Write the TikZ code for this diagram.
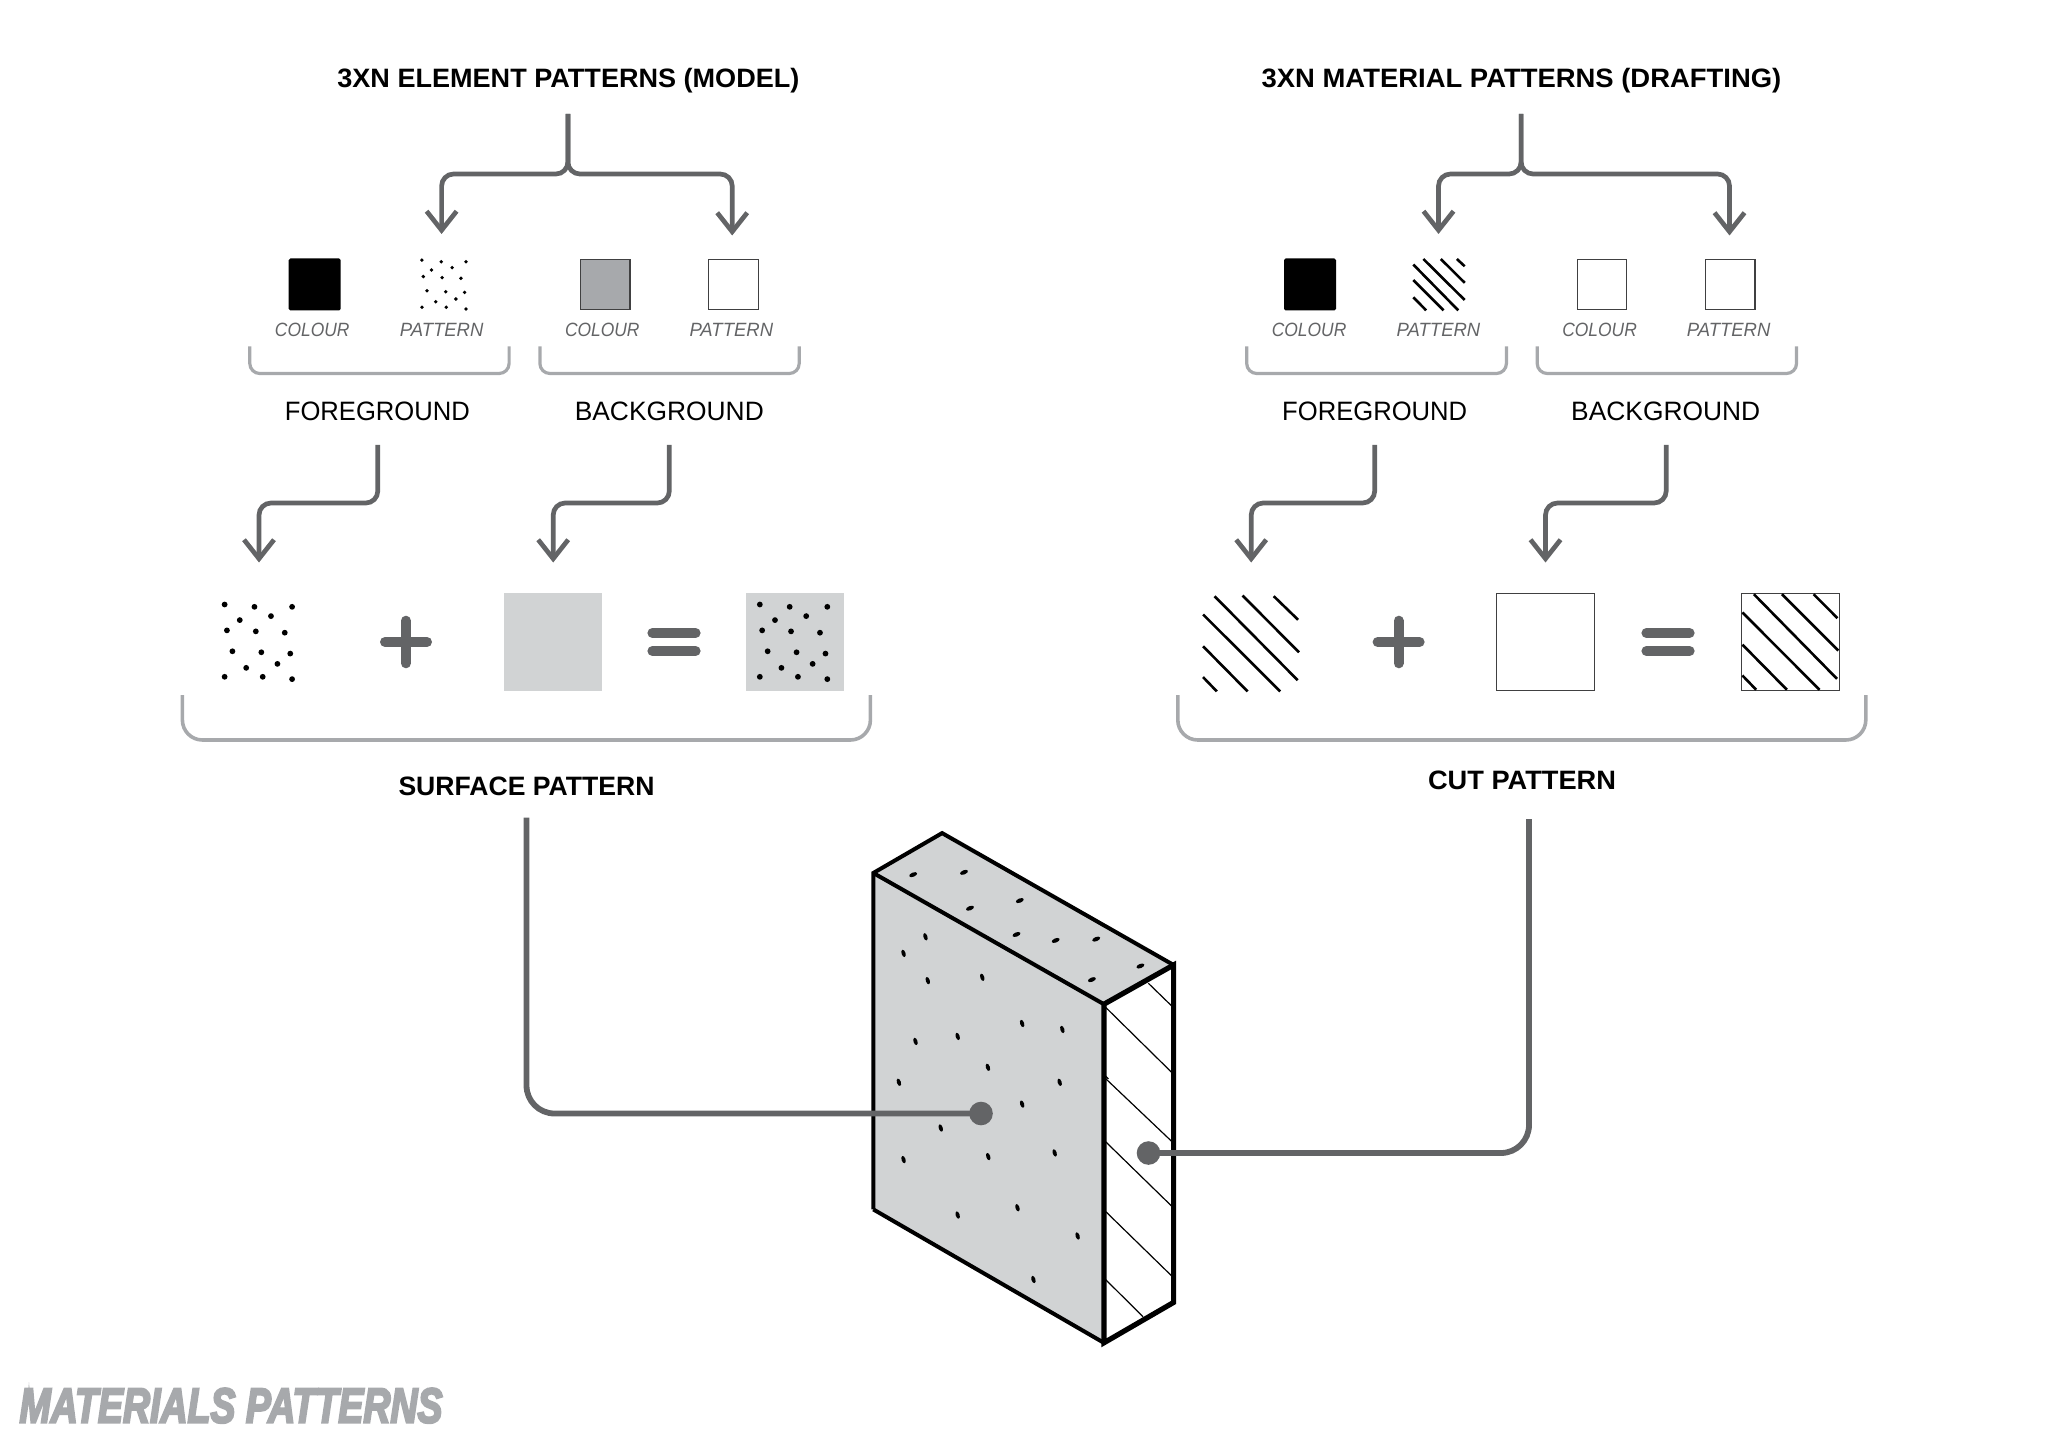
\documentclass[tikz,border=0pt]{standalone}
\usepackage{fontspec}
\setmainfont{Liberation Sans}
\newfontfamily\heavyfont[BoldItalicFeatures={FakeBold=5}]{Liberation Sans}
\usetikzlibrary{arrows.meta}
\definecolor{linegray}{HTML}{636466}
\definecolor{brackgray}{HTML}{A7A9AC}
\definecolor{lightgray}{HTML}{D1D3D4}
\definecolor{edgegray}{HTML}{404041}
\newsavebox\fitbox
\newcommand\fitw[2]{\sbox\fitbox{#2}\pgfmathsetmacro\fitr{#1*0.5/\the\wd\fitbox}\scalebox{\fitr}[1]{\usebox\fitbox}}
\def\dotsZoomTwo{119/101,184/108,266/108,220/136,152/148,124/179,187/182,250/186,136/242,199/245,262/249,234/280,166/292,119/319,202/319,266/326}
\def\dotsZoomOne{527/639,569/644,623/644,593/661,548/668,530/687,571/690,612/692,538/728,579/731,620/733,601/752,557/760,527/776,580/776,623/781}
\tikzset{
  conn/.style={draw=linegray,line width=2.35pt,rounded corners=6pt,-{Straight Barb[length=9.5pt,width=15pt,line width=2.35pt]}},
  pinline/.style={draw=linegray,line width=2.9pt,rounded corners=14pt},
  brack/.style={draw=brackgray,line width=1.6pt,rounded corners=5pt},
  bigbrack/.style={draw=brackgray,line width=1.8pt,rounded corners=10pt},
  title/.style={inner sep=0pt,anchor=base,font=\fontsize{13.3}{16}\selectfont\bfseries,text=black},
  group/.style={inner sep=0pt,anchor=base,font=\fontsize{13.3}{16}\selectfont,text=black},
  small/.style={inner sep=0pt,anchor=base,font=\fontsize{9.6}{12}\selectfont\itshape,text=linegray},
  swatch/.style={draw=edgegray,line width=.6pt,minimum size=24.8pt,inner sep=0pt,outer sep=0pt},
  solidblack/.style={fill=black,minimum size=26pt,inner sep=0pt,outer sep=0pt,rounded corners=.8pt},
  bigsquare/.style={minimum width=49pt,minimum height=48.8pt,inner sep=0pt,outer sep=0pt},
  sym/.style={draw=linegray,line width=5pt,line cap=round},
  hatchline/.style={draw=black,line width=1.3pt},
  pin/.style={circle,fill=linegray,minimum size=11.8pt,inner sep=0pt,outer sep=0pt},
  zone/.style={shift={(180,40)},x=.2295pt,y=-.1722pt},
  zthree/.style={shift={(1170,40)},x=.2295pt,y=-.1722pt},
  ztwo/.style={shift={(170,571)},x=.2295pt,y=-.16585pt},
  zfour/.style={shift={(1170,571)},x=.2295pt,y=-.16585pt},
  wall/.style={shift={(860,821.5)},x=.1661pt,y=-.1661pt},
  wallb/.style={shift={(860,1081.5)},x=.1661pt,y=-.1661pt},
}
\begin{document}
\begin{tikzpicture}[x=.5pt,y=-.5pt]
\useasboundingbox (0,0) rectangle (2048,1443);
% ---- titles
\node[title] (t1) at (568.4,87.4) {\fitw{462}{3XN ELEMENT PATTERNS (MODEL)}};
\node[title] (t2) at (1521.5,87.4) {\fitw{519.7}{3XN MATERIAL PATTERNS (DRAFTING)}};
% ---- top connectors
\coordinate (a0) at (567.9,114);
\coordinate (a1) at (441.6,234);
\coordinate (a2) at (732.2,235.5);
\draw[conn] (a0) -- (567.9,174) -- (441.6,174) -- (a1);
\draw[conn] (a0) -- (567.9,174) -- (732.2,174) -- (a2);
\coordinate (b0) at (1521.1,114);
\coordinate (b1) at (1438.5,234);
\coordinate (b2) at (1729.5,235.5);
\draw[conn] (b0) -- (1521.1,174) -- (1438.5,174) -- (b1);
\draw[conn] (b0) -- (1521.1,174) -- (1729.5,174) -- (b2);
% ---- swatches left
\node[solidblack] (s1) at (314.7,284.5) {};
\begin{scope}[zone]
\foreach \a/\b in \dotsZoomOne {\fill[black] (\a,\b) circle[radius=.95pt];}
\end{scope}
\node[swatch,fill=brackgray] (s3) at (605.2,284.5) {};
\node[swatch,fill=white] (s4) at (733.6,284.5) {};
\node[small] (l1) at (312.2,336.2) {\fitw{74.5}{COLOUR}};
\node[small] (l2) at (441.6,336.2) {\fitw{83.6}{PATTERN}};
\node[small] (l3) at (602.3,336.2) {\fitw{74.5}{COLOUR}};
\node[small] (l4) at (731.3,336.2) {\fitw{83.6}{PATTERN}};
\draw[brack] (249.8,346.5) -- (249.8,373.5) -- (509.1,373.5) -- (509.1,346.5);
\draw[brack] (539.9,346.5) -- (539.9,373.5) -- (799.2,373.5) -- (799.2,346.5);
\node[group] (g1) at (377.4,420.5) {\fitw{185}{FOREGROUND}};
\node[group] (g2) at (669.3,420.5) {\fitw{189}{BACKGROUND}};
% ---- swatches right
\node[solidblack] (r1) at (1310,284.5) {};
\begin{scope}[zthree]
\draw[hatchline] (625,636) -- (642,657) (590,636) -- (642,705) (552,636) -- (642,755) (530,652) -- (628,785) (530,697) -- (596,785) (530,747) -- (558,785);
\end{scope}
\node[swatch,fill=white] (r3) at (1601.9,284.5) {};
\node[swatch,fill=white] (r4) at (1730.2,284.5) {};
\node[small] (m1) at (1309.1,336.2) {\fitw{74.5}{COLOUR}};
\node[small] (m2) at (1438.5,336.2) {\fitw{83.6}{PATTERN}};
\node[small] (m3) at (1599.6,336.2) {\fitw{74.5}{COLOUR}};
\node[small] (m4) at (1728.6,336.2) {\fitw{83.6}{PATTERN}};
\draw[brack] (1246.7,346.5) -- (1246.7,373.5) -- (1506.4,373.5) -- (1506.4,346.5);
\draw[brack] (1537.2,346.5) -- (1537.2,373.5) -- (1796.5,373.5) -- (1796.5,346.5);
\node[group] (h1) at (1374.7,420.5) {\fitw{185}{FOREGROUND}};
\node[group] (h2) at (1665.7,420.5) {\fitw{189}{BACKGROUND}};
% ---- middle connectors
\coordinate (c1a) at (377.8,445); \coordinate (c1b) at (259,562.5);
\coordinate (c2a) at (669.3,445); \coordinate (c2b) at (553.2,562.5);
\coordinate (c3a) at (1374.7,445); \coordinate (c3b) at (1251.2,562.5);
\coordinate (c4a) at (1666.2,445); \coordinate (c4b) at (1545.5,562.5);
\draw[conn] (c1a) -- (377.8,503) -- (259,503) -- (c1b);
\draw[conn] (c2a) -- (669.3,503) -- (553.2,503) -- (c2b);
\draw[conn] (c3a) -- (1374.7,503) -- (1251.2,503) -- (c3b);
\draw[conn] (c4a) -- (1666.2,503) -- (1545.5,503) -- (c4b);
% ---- bottom row left
\node[bigsquare,fill=lightgray] (p1) at (553.4,642) {};
\node[bigsquare,fill=lightgray] (p2) at (794.7,642) {};
\begin{scope}[ztwo]
\foreach \a/\b in \dotsZoomTwo {
  \fill[black] (\a,\b) circle[radius=1.45pt];
  \fill[black] (\a+1166,\b) circle[radius=1.45pt];
}
\end{scope}
\draw[sym] (385,642) -- (427,642) (405.9,620.7) -- (405.9,663.3);
\draw[sym] (652.4,633) -- (695.6,633) (652.4,651) -- (695.6,651);
\draw[bigbrack] (182.4,695) -- (182.4,740) -- (870.4,740) -- (870.4,695);
\node[title] (sp) at (526.5,795.2) {\fitw{256}{SURFACE PATTERN}};
% ---- bottom row right
\begin{scope}[zfour]
\draw[hatchline] (226,76) -- (279,147) (158,74) -- (281,245) (97,76) -- (278,329) (72,131) -- (240,363) (72,227) -- (169,363) (72,320) -- (102,363);
\end{scope}
\node[bigsquare,draw=edgegray,line width=.6pt,fill=white] (q1) at (1545.2,642) {};
\node[bigsquare,draw=edgegray,line width=.6pt,fill=white] (q2) at (1790.4,642) {};
\begin{scope}[zfour]
\draw[hatchline] (1402,70) -- (1454,142) (1333,70) -- (1456,240) (1272,70) -- (1453,325) (1247,125) -- (1415,358) (1247,222) -- (1344,358) (1247,315) -- (1277,358);
\end{scope}
\draw[sym] (1377.6,642) -- (1419.6,642) (1398.6,620.7) -- (1398.6,663.3);
\draw[sym] (1646.4,633) -- (1689.6,633) (1646.4,651) -- (1689.6,651);
\draw[bigbrack] (1177.8,695) -- (1177.8,740) -- (1865.8,740) -- (1865.8,695);
\node[title] (cp) at (1522,789.5) {\fitw{188}{CUT PATTERN}};
% ---- wall
\fill[lightgray] (873.3,873) -- (942.1,833.1) -- (1173.6,965) -- (1103.9,1004.2) -- (1103.9,1342.8) -- (873.3,1209.4) -- cycle;
\fill[white] (1103.9,1004.2) -- (1173.6,965) -- (1173.6,1302.4) -- (1103.9,1342.8) -- cycle;
\begin{scope}[wall]
\draw[draw=black,line width=.6pt] (868,487) -- (938,555) (738,558) -- (938,755) (738,765) -- (748,775);
\foreach \a/\b in {160/160,313/153,331/261,481/238,471/340,589/358,711/354,844/435,698/476}
  {\fill[black] (\a,\b) ellipse[x radius=2.1pt,y radius=1.05pt,rotate=22];}
\foreach \a/\b in {197/347,131/397,204/479,368/469,488/608,609/626,167/662,294/647,385/740,117/785,601/785}
  {\fill[black] (\a,\b) ellipse[x radius=1pt,y radius=1.9pt,rotate=18];}
\end{scope}
\begin{scope}[wallb]
\draw[draw=black,line width=.6pt] (738,-10) -- (938,180) (738,180) -- (938,375) (738,390) -- (938,585) (738,595) -- (852,708);
\foreach \a/\b in {488/68,243/140,131/235,386/226,586/215,294/402,474/380,655/465,522/596}
  {\fill[black] (\a,\b) ellipse[x radius=1pt,y radius=1.9pt,rotate=18];}
\end{scope}
\draw[black,line width=2pt,line join=miter] (873.3,1209.4) -- (873.3,873) -- (942.1,833.1) -- (1173.6,965);
\draw[black,line width=2pt] (873.3,873) -- (1103.9,1004.2);
\draw[black,line width=2pt] (873.3,1209.4) -- (1103.9,1342.8);
\draw[black,line width=2.6pt,line join=miter] (1103.9,1342.8) -- (1103.9,1004.2) -- (1173.6,965) -- (1173.6,1302.4) -- cycle;
% ---- pins
\node[pin] (pin1) at (981,1113.5) {};
\node[pin] (pin2) at (1148.5,1153) {};
\coordinate (sp0) at (526.5,817.5);
\coordinate (cp0) at (1529,819);
\draw[pinline] (sp0) -- (526.5,1113.5) -- (pin1.center);
\draw[pinline] (cp0) -- (1529,1153) -- (pin2.center);
% ---- caption
\node[inner sep=0pt,anchor=base,text=brackgray,font=\fontsize{24.5}{28}\selectfont\heavyfont\bfseries\itshape] (cap) at (231,1422.5) {\fitw{423}{MATERIALS PATTERNS}};
\end{tikzpicture}
\end{document}
